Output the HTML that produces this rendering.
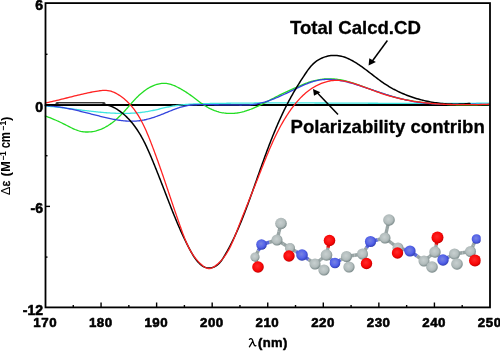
<!DOCTYPE html>
<html><head><meta charset="utf-8">
<style>
html,body{margin:0;padding:0;background:#fff;}
body{width:500px;height:351px;overflow:hidden;position:relative;}
svg{position:absolute;left:0;top:0;will-change:transform;}
text{font-family:"Liberation Sans",sans-serif;}
</style></head><body>
<svg width="500" height="351" viewBox="0 0 500 351">
<defs>
<radialGradient id="gC" cx="0.45" cy="0.42" r="0.58">
<stop offset="0" stop-color="#c8d0d0"/><stop offset="0.65" stop-color="#b2bcbc"/><stop offset="0.9" stop-color="#8a9898"/><stop offset="1" stop-color="#6c7c7c"/></radialGradient>
<radialGradient id="gN" cx="0.45" cy="0.42" r="0.58">
<stop offset="0" stop-color="#7884e0"/><stop offset="0.6" stop-color="#5564ea"/><stop offset="0.9" stop-color="#3a48c8"/><stop offset="1" stop-color="#2a36a0"/></radialGradient>
<radialGradient id="gO" cx="0.45" cy="0.42" r="0.58">
<stop offset="0" stop-color="#ff2a2a"/><stop offset="0.7" stop-color="#f80606"/><stop offset="1" stop-color="#c00000"/></radialGradient>
<clipPath id="mc"><rect x="0" y="0" width="480.7" height="351"/></clipPath>
</defs>
<g clip-path="url(#mc)"><line x1="281" y1="223.5" x2="279.00" y2="231.75" stroke="#98a4a4" stroke-width="3.4"/>
<line x1="279.00" y1="231.75" x2="277" y2="240" stroke="#98a4a4" stroke-width="3.4"/>
<line x1="277" y1="240" x2="269.25" y2="242.25" stroke="#98a4a4" stroke-width="3.4"/>
<line x1="269.25" y1="242.25" x2="261.5" y2="244.5" stroke="#5a68d8" stroke-width="3.4"/>
<line x1="261.5" y1="244.5" x2="258.25" y2="250.75" stroke="#5a68d8" stroke-width="3.4"/>
<line x1="258.25" y1="250.75" x2="255" y2="257" stroke="#98a4a4" stroke-width="3.4"/>
<line x1="255" y1="257" x2="256.50" y2="262.00" stroke="#98a4a4" stroke-width="3.4"/>
<line x1="256.50" y1="262.00" x2="258" y2="267" stroke="#e01010" stroke-width="3.4"/>
<line x1="277" y1="240" x2="283.50" y2="244.00" stroke="#98a4a4" stroke-width="3.4"/>
<line x1="283.50" y1="244.00" x2="290" y2="248" stroke="#98a4a4" stroke-width="3.4"/>
<line x1="290" y1="248" x2="289.50" y2="252.00" stroke="#98a4a4" stroke-width="3.4"/>
<line x1="289.50" y1="252.00" x2="289" y2="256" stroke="#e01010" stroke-width="3.4"/>
<line x1="290" y1="248" x2="296.00" y2="251.50" stroke="#98a4a4" stroke-width="3.4"/>
<line x1="296.00" y1="251.50" x2="302" y2="255" stroke="#5a68d8" stroke-width="3.4"/>
<line x1="302" y1="255" x2="308.50" y2="259.50" stroke="#5a68d8" stroke-width="3.4"/>
<line x1="308.50" y1="259.50" x2="315" y2="264" stroke="#98a4a4" stroke-width="3.4"/>
<line x1="315" y1="264" x2="319.50" y2="267.00" stroke="#98a4a4" stroke-width="3.4"/>
<line x1="319.50" y1="267.00" x2="324" y2="270" stroke="#98a4a4" stroke-width="3.4"/>
<line x1="315" y1="264" x2="320.75" y2="259.50" stroke="#98a4a4" stroke-width="3.4"/>
<line x1="320.75" y1="259.50" x2="326.5" y2="255" stroke="#98a4a4" stroke-width="3.4"/>
<line x1="326.5" y1="255" x2="328.00" y2="247.75" stroke="#98a4a4" stroke-width="3.4"/>
<line x1="328.00" y1="247.75" x2="329.5" y2="240.5" stroke="#e01010" stroke-width="3.4"/>
<line x1="326.5" y1="255" x2="330.75" y2="259.00" stroke="#98a4a4" stroke-width="3.4"/>
<line x1="330.75" y1="259.00" x2="335" y2="263" stroke="#5a68d8" stroke-width="3.4"/>
<line x1="335" y1="263" x2="340.75" y2="259.75" stroke="#5a68d8" stroke-width="3.4"/>
<line x1="340.75" y1="259.75" x2="346.5" y2="256.5" stroke="#98a4a4" stroke-width="3.4"/>
<line x1="346.5" y1="256.5" x2="347.75" y2="261.75" stroke="#98a4a4" stroke-width="3.4"/>
<line x1="347.75" y1="261.75" x2="349" y2="267" stroke="#98a4a4" stroke-width="3.4"/>
<line x1="346.5" y1="256.5" x2="354.50" y2="255.25" stroke="#98a4a4" stroke-width="3.4"/>
<line x1="354.50" y1="255.25" x2="362.5" y2="254" stroke="#98a4a4" stroke-width="3.4"/>
<line x1="362.5" y1="254" x2="364.50" y2="258.75" stroke="#98a4a4" stroke-width="3.4"/>
<line x1="364.50" y1="258.75" x2="366.5" y2="263.5" stroke="#e01010" stroke-width="3.4"/>
<line x1="362.5" y1="254" x2="366.50" y2="247.75" stroke="#98a4a4" stroke-width="3.4"/>
<line x1="366.50" y1="247.75" x2="370.5" y2="241.5" stroke="#5a68d8" stroke-width="3.4"/>
<line x1="370.5" y1="241.5" x2="377.75" y2="239.75" stroke="#5a68d8" stroke-width="3.4"/>
<line x1="377.75" y1="239.75" x2="385" y2="238" stroke="#98a4a4" stroke-width="3.4"/>
<line x1="385" y1="238" x2="387.00" y2="229.00" stroke="#98a4a4" stroke-width="3.4"/>
<line x1="387.00" y1="229.00" x2="389" y2="220" stroke="#98a4a4" stroke-width="3.4"/>
<line x1="385" y1="238" x2="391.50" y2="243.00" stroke="#98a4a4" stroke-width="3.4"/>
<line x1="391.50" y1="243.00" x2="398" y2="248" stroke="#98a4a4" stroke-width="3.4"/>
<line x1="398" y1="248" x2="397.75" y2="250.50" stroke="#98a4a4" stroke-width="3.4"/>
<line x1="397.75" y1="250.50" x2="397.5" y2="253" stroke="#e01010" stroke-width="3.4"/>
<line x1="398" y1="248" x2="404.00" y2="249.50" stroke="#98a4a4" stroke-width="3.4"/>
<line x1="404.00" y1="249.50" x2="410" y2="251" stroke="#5a68d8" stroke-width="3.4"/>
<line x1="410" y1="251" x2="417.00" y2="256.00" stroke="#5a68d8" stroke-width="3.4"/>
<line x1="417.00" y1="256.00" x2="424" y2="261" stroke="#98a4a4" stroke-width="3.4"/>
<line x1="424" y1="261" x2="428.00" y2="264.00" stroke="#98a4a4" stroke-width="3.4"/>
<line x1="428.00" y1="264.00" x2="432" y2="267" stroke="#98a4a4" stroke-width="3.4"/>
<line x1="424" y1="261" x2="429.50" y2="256.50" stroke="#98a4a4" stroke-width="3.4"/>
<line x1="429.50" y1="256.50" x2="435" y2="252" stroke="#98a4a4" stroke-width="3.4"/>
<line x1="435" y1="252" x2="436.25" y2="244.75" stroke="#98a4a4" stroke-width="3.4"/>
<line x1="436.25" y1="244.75" x2="437.5" y2="237.5" stroke="#e01010" stroke-width="3.4"/>
<line x1="435" y1="252" x2="439.00" y2="256.00" stroke="#98a4a4" stroke-width="3.4"/>
<line x1="439.00" y1="256.00" x2="443" y2="260" stroke="#5a68d8" stroke-width="3.4"/>
<line x1="443" y1="260" x2="448.75" y2="257.00" stroke="#5a68d8" stroke-width="3.4"/>
<line x1="448.75" y1="257.00" x2="454.5" y2="254" stroke="#98a4a4" stroke-width="3.4"/>
<line x1="454.5" y1="254" x2="455.75" y2="259.00" stroke="#98a4a4" stroke-width="3.4"/>
<line x1="455.75" y1="259.00" x2="457" y2="264" stroke="#98a4a4" stroke-width="3.4"/>
<line x1="454.5" y1="254" x2="462.50" y2="252.75" stroke="#98a4a4" stroke-width="3.4"/>
<line x1="462.50" y1="252.75" x2="470.5" y2="251.5" stroke="#98a4a4" stroke-width="3.4"/>
<line x1="470.5" y1="251.5" x2="472.75" y2="256.00" stroke="#98a4a4" stroke-width="3.4"/>
<line x1="472.75" y1="256.00" x2="475" y2="260.5" stroke="#e01010" stroke-width="3.4"/>
<line x1="470.5" y1="251.5" x2="473.25" y2="245.25" stroke="#98a4a4" stroke-width="3.4"/>
<line x1="473.25" y1="245.25" x2="476" y2="239" stroke="#98a4a4" stroke-width="3.4"/>
<circle cx="281" cy="223.5" r="5.8" fill="url(#gC)"/>
<circle cx="277" cy="240" r="5.5" fill="url(#gC)"/>
<circle cx="255" cy="257" r="4.6" fill="url(#gC)"/>
<circle cx="290" cy="248" r="5" fill="url(#gC)"/>
<circle cx="315" cy="264" r="5.5" fill="url(#gC)"/>
<circle cx="326.5" cy="255" r="5.8" fill="url(#gC)"/>
<circle cx="346.5" cy="256.5" r="5.5" fill="url(#gC)"/>
<circle cx="362.5" cy="254" r="5.5" fill="url(#gC)"/>
<circle cx="385" cy="238" r="5.5" fill="url(#gC)"/>
<circle cx="398" cy="248" r="5.5" fill="url(#gC)"/>
<circle cx="424" cy="261" r="5.5" fill="url(#gC)"/>
<circle cx="435" cy="252" r="5.7" fill="url(#gC)"/>
<circle cx="454.5" cy="254" r="5.5" fill="url(#gC)"/>
<circle cx="470.5" cy="251.5" r="5.5" fill="url(#gC)"/>
<circle cx="324" cy="270" r="5.6" fill="url(#gC)"/>
<circle cx="349" cy="267" r="5.6" fill="url(#gC)"/>
<circle cx="389" cy="220" r="5.8" fill="url(#gC)"/>
<circle cx="432" cy="267" r="5.8" fill="url(#gC)"/>
<circle cx="457" cy="264" r="5.8" fill="url(#gC)"/>
<circle cx="261.5" cy="244.5" r="5.3" fill="url(#gN)"/>
<circle cx="302" cy="255" r="5.8" fill="url(#gN)"/>
<circle cx="335" cy="263" r="5.3" fill="url(#gN)"/>
<circle cx="370.5" cy="241.5" r="5.6" fill="url(#gN)"/>
<circle cx="410" cy="251" r="5.6" fill="url(#gN)"/>
<circle cx="443" cy="260" r="5.7" fill="url(#gN)"/>
<circle cx="476.5" cy="239" r="4.8" fill="url(#gN)"/>
<circle cx="258" cy="267" r="5.8" fill="url(#gO)"/>
<circle cx="289" cy="256" r="5.7" fill="url(#gO)"/>
<circle cx="329.5" cy="240.5" r="5.8" fill="url(#gO)"/>
<circle cx="366.5" cy="263.5" r="5.7" fill="url(#gO)"/>
<circle cx="397.5" cy="253" r="5.7" fill="url(#gO)"/>
<circle cx="437.5" cy="237.5" r="6" fill="url(#gO)"/>
<circle cx="475" cy="260.5" r="6" fill="url(#gO)"/></g>
<g fill="none" stroke-linejoin="round" stroke-linecap="round">
<line x1="46" y1="105" x2="489" y2="105" stroke="#000" stroke-width="2"/>
<path d="M45.32,106.05 L46.42,106.13 L47.53,106.21 L48.63,106.30 L49.73,106.39 L50.84,106.49 L51.94,106.59 L53.05,106.70 L54.16,106.80 L55.26,106.91 L56.37,107.03 L57.47,107.15 L58.58,107.27 L59.69,107.39 L60.79,107.51 L61.90,107.64 L63.01,107.77 L64.12,107.90 L65.22,108.03 L66.33,108.17 L67.44,108.30 L68.55,108.44 L69.66,108.58 L70.76,108.72 L71.87,108.86 L72.98,109.00 L74.09,109.14 L75.20,109.28 L76.31,109.43 L77.42,109.57 L78.53,109.71 L79.64,109.85 L80.75,109.99 L81.86,110.13 L82.97,110.27 L84.08,110.41 L85.19,110.55 L86.30,110.68 L87.41,110.82 L88.52,110.95 L89.63,111.08 L90.74,111.21 L91.85,111.34 L92.97,111.47 L94.08,111.59 L95.19,111.71 L96.30,111.83 L97.41,111.94 L98.52,112.06 L99.63,112.17 L100.75,112.27 L101.86,112.37 L102.97,112.47 L104.08,112.56 L105.19,112.66 L106.31,112.74 L107.42,112.82 L108.53,112.90 L109.64,112.97 L110.75,113.04 L111.87,113.11 L112.98,113.16 L114.09,113.22 L115.20,113.26 L116.32,113.30 L117.43,113.34 L118.54,113.37 L119.65,113.39 L120.77,113.41 L121.88,113.42 L122.99,113.43 L124.10,113.43 L125.21,113.42 L126.33,113.40 L127.44,113.38 L128.55,113.35 L129.66,113.31 L130.77,113.26 L131.88,113.21 L132.99,113.15 L134.10,113.08 L135.21,113.00 L136.32,112.92 L137.42,112.82 L138.53,112.72 L139.64,112.60 L140.74,112.48 L141.85,112.35 L142.95,112.21 L144.05,112.06 L145.15,111.90 L146.25,111.73 L147.35,111.55 L148.45,111.36 L149.55,111.16 L150.64,110.95 L151.74,110.73 L152.83,110.50 L153.93,110.26 L155.02,110.02 L156.11,109.77 L157.20,109.52 L158.29,109.26 L159.38,109.00 L160.47,108.74 L161.56,108.49 L162.65,108.23 L163.74,107.97 L164.83,107.72 L165.93,107.48 L167.02,107.24 L168.11,107.01 L169.20,106.78 L170.30,106.57 L171.39,106.36 L172.49,106.17 L173.59,105.98 L174.69,105.81 L175.79,105.64 L176.89,105.49 L177.99,105.34 L179.09,105.20 L180.20,105.07 L181.30,104.94 L182.40,104.82 L183.51,104.71 L184.62,104.61 L185.72,104.51 L186.83,104.42 L187.94,104.34 L189.05,104.26 L190.16,104.19 L191.27,104.12 L192.38,104.06 L193.49,104.00 L194.60,103.95 L195.71,103.90 L196.82,103.86 L197.94,103.82 L199.05,103.78 L200.16,103.74 L201.28,103.71 L202.39,103.68 L203.50,103.65 L204.62,103.63 L205.73,103.60 L206.85,103.58 L207.96,103.56 L209.08,103.54 L210.19,103.52 L211.31,103.50 L212.42,103.48 L213.53,103.47 L214.65,103.45 L215.76,103.43 L216.88,103.41 L217.99,103.40 L219.11,103.38 L220.22,103.36 L221.34,103.35 L222.45,103.33 L223.57,103.32 L224.68,103.30 L225.80,103.29 L226.91,103.27 L228.03,103.26 L229.14,103.25 L230.26,103.23 L231.37,103.22 L232.49,103.21 L233.60,103.19 L234.72,103.18 L235.83,103.17 L236.95,103.16 L238.06,103.15 L239.18,103.14 L240.29,103.13 L241.41,103.12 L242.52,103.11 L243.64,103.10 L244.75,103.09 L245.87,103.08 L246.98,103.07 L248.10,103.06 L249.21,103.06 L250.33,103.05 L251.44,103.04 L252.56,103.03 L253.67,103.03 L254.79,103.02 L255.90,103.01 L257.02,103.01 L258.13,103.00 L259.25,102.99 L260.36,102.99 L261.48,102.98 L262.59,102.98 L263.71,102.97 L264.82,102.97 L265.94,102.97 L267.05,102.96 L268.17,102.96 L269.28,102.95 L270.40,102.95 L271.51,102.95 L272.63,102.95 L273.74,102.94 L274.86,102.94 L275.97,102.94 L277.09,102.94 L278.21,102.93 L279.32,102.93 L280.44,102.93 L281.55,102.93 L282.67,102.93 L283.78,102.93 L284.90,102.93 L286.01,102.93 L287.13,102.93 L288.24,102.93 L289.36,102.93 L290.47,102.93 L291.59,102.93 L292.71,102.93 L293.82,102.93 L294.94,102.93 L296.05,102.93 L297.17,102.93 L298.28,102.94 L299.40,102.94 L300.51,102.94 L301.63,102.94 L302.74,102.94 L303.86,102.95 L304.97,102.95 L306.09,102.95 L307.21,102.95 L308.32,102.96 L309.44,102.96 L310.55,102.96 L311.67,102.97 L312.78,102.97 L313.90,102.97 L315.01,102.98 L316.13,102.98 L317.25,102.98 L318.36,102.99 L319.48,102.99 L320.59,102.99 L321.71,103.00 L322.82,103.00 L323.94,103.01 L325.05,103.01 L326.17,103.02 L327.28,103.02 L328.40,103.03 L329.52,103.03 L330.63,103.04 L331.75,103.04 L332.86,103.05 L333.98,103.05 L335.09,103.06 L336.21,103.06 L337.32,103.07 L338.44,103.07 L339.56,103.08 L340.67,103.08 L341.79,103.09 L342.90,103.09 L344.02,103.10 L345.13,103.11 L346.25,103.11 L347.36,103.12 L348.48,103.12 L349.60,103.13 L350.71,103.13 L351.83,103.14 L352.94,103.15 L354.06,103.15 L355.17,103.16 L356.29,103.16 L357.40,103.17 L358.52,103.17 L359.64,103.18 L360.75,103.19 L361.87,103.19 L362.98,103.20 L364.10,103.20 L365.21,103.21 L366.33,103.22 L367.44,103.22 L368.56,103.23 L369.68,103.23 L370.79,103.24 L371.91,103.25 L373.02,103.25 L374.14,103.26 L375.25,103.26 L376.37,103.27 L377.48,103.27 L378.60,103.28 L379.72,103.28 L380.83,103.29 L381.95,103.30 L383.06,103.30 L384.18,103.31 L385.29,103.31 L386.41,103.32 L387.52,103.32 L388.64,103.33 L389.75,103.33 L390.87,103.34 L391.99,103.34 L393.10,103.35 L394.22,103.35 L395.33,103.36 L396.45,103.36 L397.56,103.36 L398.68,103.37 L399.79,103.37 L400.91,103.38 L402.02,103.38 L403.14,103.38 L404.26,103.39 L405.37,103.39 L406.49,103.40 L407.60,103.40 L408.72,103.40 L409.83,103.41 L410.95,103.41 L412.06,103.41 L413.18,103.41 L414.29,103.42 L415.41,103.42 L416.52,103.42 L417.64,103.42 L418.75,103.43 L419.87,103.43 L420.99,103.43 L422.10,103.43 L423.22,103.43 L424.33,103.44 L425.45,103.44 L426.56,103.44 L427.68,103.44 L428.79,103.44 L429.91,103.44 L431.02,103.44 L432.14,103.44 L433.25,103.44 L434.37,103.44 L435.48,103.44 L436.60,103.44 L437.71,103.44 L438.83,103.44 L439.94,103.44 L441.06,103.44 L442.17,103.43 L443.29,103.43 L444.40,103.43 L445.52,103.43 L446.63,103.43 L447.75,103.42 L448.86,103.42 L449.98,103.42 L451.09,103.42 L452.21,103.41 L453.32,103.41 L454.44,103.40 L455.55,103.40 L456.67,103.40 L457.78,103.39 L458.90,103.39 L460.01,103.38 L461.13,103.38 L462.24,103.37 L463.36,103.36 L464.47,103.36 L465.59,103.35 L466.70,103.35 L467.82,103.34 L468.93,103.33 L470.05,103.32 L471.16,103.32 L472.28,103.31 L473.39,103.30 L474.51,103.29 L475.62,103.28 L476.74,103.27 L477.85,103.26 L478.97,103.25 L480.08,103.24 L481.19,103.23 L482.31,103.22 L483.42,103.21 L484.54,103.20 L485.65,103.19 L486.77,103.18 L487.88,103.17 L489.00,103.15" stroke="#3ee6e0" stroke-width="1.3"/>
<path d="M45.30,116.05 L46.44,116.46 L47.58,116.87 L48.71,117.30 L49.84,117.73 L50.95,118.16 L52.07,118.61 L53.18,119.06 L54.28,119.53 L55.38,120.00 L56.48,120.48 L57.58,120.97 L58.67,121.46 L59.76,121.97 L60.85,122.49 L61.94,123.01 L63.03,123.55 L64.12,124.09 L65.22,124.65 L66.31,125.21 L67.41,125.78 L68.50,126.35 L69.60,126.92 L70.71,127.47 L71.82,128.02 L72.93,128.54 L74.05,129.04 L75.18,129.52 L76.31,129.97 L77.44,130.38 L78.59,130.75 L79.74,131.08 L80.90,131.35 L82.07,131.58 L83.24,131.76 L84.42,131.89 L85.61,131.98 L86.79,132.02 L87.98,132.01 L89.16,131.97 L90.35,131.87 L91.53,131.74 L92.71,131.57 L93.88,131.35 L95.05,131.10 L96.21,130.81 L97.36,130.49 L98.51,130.12 L99.64,129.73 L100.75,129.30 L101.86,128.84 L102.95,128.34 L104.03,127.82 L105.10,127.26 L106.15,126.68 L107.19,126.07 L108.22,125.44 L109.24,124.78 L110.25,124.10 L111.24,123.39 L112.22,122.67 L113.19,121.92 L114.14,121.16 L115.09,120.38 L116.02,119.58 L116.94,118.77 L117.85,117.94 L118.75,117.10 L119.64,116.24 L120.51,115.38 L121.38,114.51 L122.23,113.63 L123.07,112.74 L123.90,111.85 L124.72,110.95 L125.53,110.04 L126.34,109.14 L127.14,108.23 L127.93,107.32 L128.72,106.41 L129.51,105.50 L130.30,104.59 L131.09,103.69 L131.89,102.79 L132.68,101.89 L133.48,101.00 L134.29,100.12 L135.10,99.24 L135.93,98.38 L136.76,97.52 L137.61,96.68 L138.46,95.85 L139.34,95.03 L140.22,94.22 L141.13,93.43 L142.05,92.65 L142.99,91.89 L143.95,91.15 L144.94,90.43 L145.95,89.73 L146.97,89.05 L148.02,88.40 L149.09,87.77 L150.18,87.18 L151.28,86.62 L152.39,86.09 L153.52,85.60 L154.66,85.15 L155.81,84.74 L156.96,84.38 L158.13,84.07 L159.29,83.81 L160.47,83.60 L161.64,83.45 L162.82,83.35 L163.99,83.32 L165.16,83.35 L166.33,83.44 L167.49,83.60 L168.65,83.83 L169.80,84.11 L170.94,84.44 L172.08,84.82 L173.21,85.24 L174.34,85.70 L175.45,86.20 L176.56,86.72 L177.66,87.27 L178.75,87.84 L179.83,88.43 L180.91,89.03 L181.97,89.64 L183.02,90.25 L184.06,90.88 L185.10,91.52 L186.12,92.17 L187.14,92.84 L188.15,93.51 L189.15,94.19 L190.14,94.89 L191.13,95.60 L192.11,96.32 L193.09,97.05 L194.06,97.78 L195.03,98.52 L196.00,99.25 L196.97,99.99 L197.94,100.73 L198.91,101.46 L199.89,102.19 L200.87,102.91 L201.85,103.61 L202.85,104.31 L203.85,104.99 L204.86,105.65 L205.88,106.30 L206.91,106.92 L207.95,107.52 L209.01,108.10 L210.08,108.65 L211.17,109.17 L212.28,109.67 L213.39,110.13 L214.52,110.57 L215.66,110.97 L216.81,111.35 L217.98,111.69 L219.14,112.01 L220.32,112.30 L221.50,112.55 L222.69,112.77 L223.88,112.97 L225.07,113.13 L226.27,113.26 L227.46,113.35 L228.66,113.42 L229.85,113.45 L231.04,113.45 L232.23,113.42 L233.41,113.36 L234.59,113.27 L235.76,113.14 L236.93,112.99 L238.10,112.81 L239.26,112.60 L240.42,112.37 L241.58,112.11 L242.73,111.82 L243.88,111.52 L245.03,111.19 L246.17,110.84 L247.32,110.47 L248.45,110.08 L249.59,109.67 L250.72,109.25 L251.85,108.80 L252.97,108.35 L254.10,107.87 L255.22,107.39 L256.34,106.89 L257.45,106.38 L258.57,105.86 L259.68,105.33 L260.79,104.79 L261.89,104.24 L263.00,103.69 L264.10,103.12 L265.20,102.56 L266.30,101.99 L267.40,101.42 L268.49,100.84 L269.59,100.26 L270.68,99.69 L271.77,99.11 L272.86,98.54 L273.95,97.96 L275.03,97.40 L276.12,96.83 L277.20,96.27 L278.29,95.72 L279.37,95.18 L280.45,94.64 L281.53,94.11 L282.61,93.59 L283.69,93.08 L284.76,92.57 L285.84,92.07 L286.92,91.58 L288.00,91.09 L289.08,90.60 L290.16,90.12 L291.24,89.64 L292.33,89.16 L293.41,88.68 L294.50,88.20 L295.59,87.73 L296.68,87.25 L297.78,86.77 L298.87,86.29 L299.97,85.80 L301.08,85.31 L302.18,84.82 L303.30,84.34 L304.42,83.88 L305.54,83.43 L306.68,83.00 L307.83,82.58 L308.98,82.19 L310.14,81.82 L311.30,81.47 L312.48,81.14 L313.65,80.83 L314.84,80.54 L316.02,80.28 L317.21,80.03 L318.41,79.81 L319.61,79.61 L320.81,79.43 L322.01,79.27 L323.22,79.14 L324.42,79.02 L325.63,78.94 L326.84,78.87 L328.05,78.83 L329.25,78.81 L330.46,78.81 L331.66,78.84 L332.86,78.89 L334.06,78.97 L335.26,79.07 L336.45,79.20 L337.64,79.34 L338.82,79.52 L340.00,79.71 L341.18,79.92 L342.36,80.15 L343.53,80.41 L344.71,80.68 L345.87,80.96 L347.04,81.26 L348.20,81.58 L349.36,81.91 L350.52,82.25 L351.68,82.61 L352.84,82.97 L353.99,83.35 L355.14,83.73 L356.29,84.12 L357.44,84.52 L358.59,84.93 L359.74,85.34 L360.88,85.75 L362.03,86.17 L363.17,86.59 L364.32,87.01 L365.46,87.43 L366.60,87.85 L367.74,88.27 L368.89,88.68 L370.03,89.10 L371.17,89.51 L372.31,89.93 L373.45,90.34 L374.59,90.74 L375.74,91.15 L376.88,91.55 L378.02,91.95 L379.17,92.34 L380.31,92.73 L381.46,93.12 L382.60,93.50 L383.75,93.88 L384.90,94.25 L386.05,94.61 L387.20,94.97 L388.35,95.33 L389.51,95.67 L390.67,96.02 L391.82,96.35 L392.98,96.68 L394.14,97.00 L395.31,97.31 L396.47,97.61 L397.64,97.91 L398.81,98.20 L399.98,98.48 L401.15,98.75 L402.33,99.02 L403.51,99.28 L404.69,99.53 L405.87,99.77 L407.05,100.01 L408.23,100.24 L409.42,100.46 L410.61,100.68 L411.79,100.89 L412.98,101.09 L414.18,101.28 L415.37,101.47 L416.56,101.66 L417.76,101.83 L418.96,102.01 L420.15,102.17 L421.35,102.33 L422.55,102.48 L423.75,102.63 L424.96,102.77 L426.16,102.91 L427.37,103.04 L428.57,103.16 L429.78,103.28 L430.98,103.39 L432.19,103.50 L433.40,103.61 L434.61,103.70 L435.82,103.80 L437.03,103.89 L438.24,103.97 L439.45,104.05 L440.66,104.13 L441.87,104.20 L443.09,104.26 L444.30,104.33 L445.51,104.39 L446.73,104.44 L447.94,104.49 L449.15,104.54 L450.37,104.58 L451.58,104.62 L452.80,104.65 L454.01,104.68 L455.22,104.71 L456.44,104.74 L457.65,104.76 L458.86,104.78 L460.08,104.79 L461.29,104.80 L462.50,104.81 L463.71,104.82 L464.92,104.82 L466.14,104.83 L467.35,104.82 L468.56,104.82 L469.77,104.82 L470.97,104.81 L472.18,104.80 L473.39,104.79 L474.60,104.77 L475.80,104.76 L477.01,104.74 L478.21,104.72 L479.41,104.70 L480.61,104.68 L481.81,104.65 L483.01,104.63 L484.21,104.60 L485.41,104.57 L486.61,104.54 L487.80,104.52 L488.99,104.49" stroke="#22dd22" stroke-width="1.3"/>
<path d="M45.29,105.51 L46.45,105.58 L47.60,105.66 L48.75,105.75 L49.90,105.85 L51.04,105.96 L52.19,106.07 L53.33,106.20 L54.46,106.34 L55.60,106.48 L56.73,106.63 L57.87,106.79 L58.99,106.96 L60.12,107.13 L61.25,107.31 L62.37,107.50 L63.50,107.70 L64.62,107.90 L65.74,108.11 L66.85,108.32 L67.97,108.54 L69.09,108.76 L70.20,108.99 L71.31,109.23 L72.43,109.46 L73.54,109.71 L74.65,109.96 L75.76,110.21 L76.87,110.46 L77.98,110.72 L79.09,110.98 L80.19,111.25 L81.30,111.52 L82.41,111.79 L83.52,112.06 L84.62,112.33 L85.73,112.61 L86.84,112.89 L87.94,113.17 L89.05,113.45 L90.16,113.73 L91.27,114.01 L92.38,114.29 L93.49,114.58 L94.60,114.86 L95.71,115.14 L96.82,115.42 L97.93,115.70 L99.05,115.98 L100.16,116.26 L101.28,116.53 L102.40,116.81 L103.51,117.08 L104.63,117.35 L105.75,117.61 L106.87,117.87 L108.00,118.12 L109.12,118.37 L110.24,118.61 L111.37,118.85 L112.49,119.08 L113.62,119.30 L114.74,119.51 L115.87,119.71 L116.99,119.90 L118.12,120.08 L119.25,120.25 L120.38,120.41 L121.50,120.55 L122.63,120.68 L123.76,120.80 L124.89,120.91 L126.02,121.00 L127.14,121.08 L128.27,121.13 L129.40,121.18 L130.53,121.20 L131.65,121.21 L132.78,121.20 L133.91,121.17 L135.03,121.13 L136.16,121.06 L137.29,120.97 L138.41,120.86 L139.53,120.73 L140.66,120.58 L141.78,120.40 L142.90,120.20 L144.02,119.99 L145.14,119.75 L146.26,119.50 L147.37,119.22 L148.49,118.94 L149.60,118.63 L150.71,118.31 L151.82,117.98 L152.92,117.63 L154.02,117.27 L155.12,116.89 L156.22,116.51 L157.31,116.12 L158.40,115.71 L159.48,115.30 L160.57,114.89 L161.64,114.46 L162.72,114.03 L163.79,113.60 L164.86,113.16 L165.93,112.72 L166.99,112.28 L168.06,111.85 L169.12,111.41 L170.18,110.98 L171.25,110.56 L172.31,110.14 L173.37,109.72 L174.44,109.32 L175.50,108.93 L176.57,108.54 L177.64,108.17 L178.71,107.81 L179.78,107.47 L180.86,107.15 L181.94,106.84 L183.03,106.55 L184.12,106.28 L185.22,106.03 L186.32,105.81 L187.42,105.60 L188.53,105.43 L189.65,105.27 L190.77,105.14 L191.90,105.02 L193.03,104.92 L194.16,104.84 L195.30,104.78 L196.44,104.73 L197.59,104.69 L198.73,104.66 L199.88,104.64 L201.02,104.63 L202.17,104.63 L203.32,104.63 L204.47,104.63 L205.62,104.64 L206.77,104.65 L207.92,104.66 L209.06,104.67 L210.21,104.68 L211.36,104.69 L212.50,104.70 L213.65,104.71 L214.79,104.73 L215.94,104.74 L217.08,104.76 L218.23,104.77 L219.37,104.79 L220.51,104.80 L221.66,104.82 L222.80,104.83 L223.94,104.84 L225.09,104.86 L226.23,104.87 L227.37,104.89 L228.51,104.90 L229.66,104.91 L230.80,104.92 L231.94,104.93 L233.09,104.94 L234.23,104.95 L235.37,104.96 L236.52,104.97 L237.66,104.97 L238.80,104.97 L239.95,104.98 L241.09,104.98 L242.23,104.97 L243.38,104.97 L244.52,104.95 L245.66,104.93 L246.81,104.90 L247.95,104.85 L249.09,104.80 L250.22,104.73 L251.36,104.64 L252.49,104.54 L253.62,104.41 L254.75,104.27 L255.87,104.10 L256.99,103.92 L258.11,103.71 L259.22,103.48 L260.33,103.23 L261.44,102.96 L262.54,102.67 L263.64,102.37 L264.74,102.05 L265.83,101.72 L266.91,101.37 L268.00,101.01 L269.08,100.64 L270.15,100.25 L271.22,99.85 L272.29,99.45 L273.35,99.03 L274.41,98.60 L275.47,98.17 L276.52,97.73 L277.57,97.28 L278.62,96.82 L279.66,96.37 L280.70,95.90 L281.73,95.44 L282.77,94.97 L283.80,94.49 L284.82,94.02 L285.84,93.55 L286.86,93.08 L287.88,92.60 L288.90,92.12 L289.92,91.65 L290.94,91.16 L291.96,90.68 L292.99,90.19 L294.02,89.70 L295.06,89.20 L296.10,88.70 L297.15,88.19 L298.20,87.68 L299.26,87.18 L300.32,86.67 L301.39,86.17 L302.46,85.68 L303.54,85.19 L304.62,84.72 L305.70,84.25 L306.79,83.80 L307.88,83.36 L308.97,82.94 L310.07,82.53 L311.17,82.15 L312.27,81.79 L313.37,81.45 L314.47,81.14 L315.58,80.85 L316.68,80.59 L317.79,80.36 L318.90,80.15 L320.01,79.98 L321.12,79.82 L322.23,79.69 L323.34,79.59 L324.45,79.51 L325.56,79.45 L326.68,79.42 L327.79,79.41 L328.91,79.41 L330.02,79.44 L331.13,79.49 L332.25,79.56 L333.37,79.65 L334.48,79.76 L335.60,79.88 L336.71,80.02 L337.83,80.18 L338.94,80.35 L340.06,80.54 L341.17,80.74 L342.29,80.96 L343.40,81.18 L344.52,81.43 L345.63,81.68 L346.75,81.95 L347.86,82.22 L348.97,82.51 L350.08,82.81 L351.19,83.12 L352.30,83.43 L353.41,83.75 L354.52,84.08 L355.63,84.42 L356.74,84.76 L357.84,85.11 L358.95,85.46 L360.05,85.82 L361.15,86.18 L362.25,86.54 L363.35,86.91 L364.45,87.27 L365.55,87.64 L366.64,88.01 L367.74,88.38 L368.83,88.75 L369.92,89.12 L371.01,89.49 L372.10,89.86 L373.19,90.23 L374.27,90.60 L375.36,90.97 L376.45,91.33 L377.53,91.70 L378.62,92.06 L379.70,92.42 L380.79,92.78 L381.87,93.14 L382.96,93.49 L384.04,93.84 L385.12,94.19 L386.21,94.54 L387.29,94.88 L388.38,95.22 L389.46,95.56 L390.55,95.89 L391.64,96.22 L392.72,96.54 L393.81,96.86 L394.90,97.17 L395.99,97.48 L397.08,97.78 L398.17,98.08 L399.27,98.37 L400.36,98.66 L401.46,98.94 L402.56,99.21 L403.66,99.48 L404.76,99.74 L405.86,100.00 L406.97,100.24 L408.07,100.48 L409.18,100.72 L410.29,100.94 L411.41,101.16 L412.52,101.37 L413.64,101.57 L414.76,101.76 L415.89,101.94 L417.01,102.11 L418.14,102.28 L419.27,102.44 L420.41,102.59 L421.54,102.73 L422.68,102.86 L423.82,102.99 L424.96,103.11 L426.10,103.22 L427.25,103.32 L428.39,103.42 L429.54,103.52 L430.69,103.60 L431.84,103.68 L432.99,103.76 L434.15,103.83 L435.30,103.89 L436.45,103.95 L437.61,104.00 L438.77,104.05 L439.92,104.09 L441.08,104.13 L442.24,104.17 L443.40,104.20 L444.56,104.22 L445.72,104.25 L446.88,104.27 L448.04,104.29 L449.20,104.30 L450.35,104.31 L451.51,104.32 L452.67,104.33 L453.83,104.33 L454.99,104.33 L456.14,104.34 L457.30,104.33 L458.46,104.33 L459.61,104.33 L460.76,104.32 L461.92,104.32 L463.07,104.31 L464.22,104.31 L465.36,104.30 L466.51,104.30 L467.66,104.29 L468.80,104.29 L469.94,104.28 L471.08,104.28 L472.22,104.27 L473.36,104.27 L474.49,104.27 L475.62,104.27 L476.75,104.28 L477.88,104.28 L479.00,104.29 L480.12,104.30 L481.24,104.32 L482.36,104.33 L483.47,104.35 L484.58,104.37 L485.69,104.40 L486.79,104.43 L487.89,104.46 L488.99,104.50" stroke="#3344dd" stroke-width="1.3"/>
<path d="M57,103.6 L104,103.6" stroke="#3a3a3a" stroke-width="3"/><path d="M59,103.5 L102,103.5" stroke="#a8a8a8" stroke-width="1.2"/>
<path d="M45.3,105 L100,105 L99.94,105.10 L101.58,104.83 L103.17,104.71 L104.72,104.74 L106.24,104.90 L107.71,105.18 L109.16,105.56 L110.57,106.04 L111.96,106.61 L113.32,107.24 L114.65,107.93 L115.97,108.68 L117.26,109.46 L118.53,110.29 L119.78,111.16 L121.00,112.07 L122.21,113.01 L123.39,113.99 L124.55,115.00 L125.69,116.04 L126.80,117.11 L127.89,118.20 L128.96,119.33 L130.00,120.47 L131.02,121.64 L132.02,122.83 L133.00,124.03 L133.95,125.25 L134.87,126.49 L135.77,127.73 L136.65,128.99 L137.51,130.26 L138.34,131.54 L139.15,132.83 L139.94,134.13 L140.71,135.44 L141.47,136.75 L142.20,138.08 L142.92,139.41 L143.63,140.75 L144.32,142.10 L145.00,143.46 L145.66,144.82 L146.31,146.19 L146.95,147.56 L147.58,148.94 L148.21,150.33 L148.82,151.72 L149.43,153.11 L150.03,154.51 L150.62,155.91 L151.22,157.32 L151.81,158.72 L152.39,160.13 L152.98,161.55 L153.56,162.96 L154.14,164.38 L154.71,165.80 L155.29,167.22 L155.86,168.64 L156.43,170.07 L157.00,171.49 L157.57,172.92 L158.13,174.35 L158.70,175.78 L159.26,177.21 L159.82,178.64 L160.38,180.07 L160.94,181.50 L161.50,182.93 L162.05,184.36 L162.61,185.80 L163.16,187.23 L163.72,188.66 L164.27,190.09 L164.82,191.52 L165.37,192.95 L165.92,194.38 L166.47,195.81 L167.02,197.23 L167.57,198.66 L168.12,200.08 L168.68,201.51 L169.23,202.93 L169.78,204.35 L170.34,205.77 L170.89,207.19 L171.45,208.60 L172.01,210.02 L172.57,211.43 L173.14,212.85 L173.71,214.26 L174.28,215.67 L174.85,217.08 L175.43,218.49 L176.01,219.89 L176.60,221.30 L177.19,222.70 L177.78,224.10 L178.38,225.50 L178.99,226.90 L179.60,228.30 L180.21,229.69 L180.84,231.09 L181.46,232.48 L182.10,233.87 L182.74,235.26 L183.39,236.65 L184.04,238.03 L184.70,239.41 L185.37,240.79 L186.05,242.17 L186.73,243.55 L187.43,244.93 L188.13,246.30 L188.84,247.67 L189.56,249.04 L190.29,250.41 L191.03,251.77 L191.79,253.13 L192.56,254.47 L193.37,255.80 L194.20,257.10 L195.07,258.37 L195.98,259.61 L196.94,260.81 L197.95,261.97 L199.01,263.08 L200.13,264.14 L201.32,265.14 L202.57,266.03 L203.88,266.80 L205.26,267.39 L206.68,267.78 L208.15,267.97 L209.63,267.98 L211.10,267.82 L212.54,267.48 L213.94,266.99 L215.27,266.36 L216.51,265.59 L217.67,264.70 L218.77,263.70 L219.80,262.61 L220.78,261.44 L221.70,260.20 L222.59,258.91 L223.44,257.58 L224.27,256.22 L225.07,254.85 L225.87,253.48 L226.65,252.11 L227.41,250.74 L228.16,249.36 L228.91,247.99 L229.64,246.61 L230.35,245.24 L231.06,243.86 L231.76,242.48 L232.44,241.10 L233.12,239.72 L233.78,238.33 L234.44,236.95 L235.09,235.56 L235.72,234.17 L236.35,232.78 L236.98,231.39 L237.59,230.00 L238.20,228.61 L238.80,227.21 L239.39,225.81 L239.98,224.42 L240.56,223.01 L241.13,221.61 L241.70,220.21 L242.26,218.80 L242.82,217.39 L243.38,215.98 L243.93,214.57 L244.48,213.16 L245.02,211.74 L245.56,210.32 L246.10,208.90 L246.63,207.48 L247.17,206.06 L247.70,204.63 L248.23,203.20 L248.75,201.77 L249.28,200.34 L249.80,198.91 L250.32,197.48 L250.84,196.04 L251.36,194.60 L251.87,193.17 L252.39,191.73 L252.90,190.29 L253.41,188.85 L253.93,187.40 L254.44,185.96 L254.95,184.52 L255.46,183.08 L255.97,181.63 L256.48,180.19 L256.99,178.74 L257.50,177.30 L258.01,175.85 L258.52,174.40 L259.03,172.96 L259.55,171.51 L260.06,170.06 L260.57,168.62 L261.09,167.17 L261.60,165.73 L262.12,164.28 L262.64,162.84 L263.16,161.39 L263.68,159.95 L264.20,158.51 L264.73,157.07 L265.26,155.63 L265.79,154.19 L266.32,152.75 L266.86,151.31 L267.39,149.87 L267.93,148.44 L268.48,147.00 L269.02,145.57 L269.57,144.14 L270.12,142.71 L270.68,141.28 L271.24,139.85 L271.80,138.43 L272.37,137.01 L272.94,135.59 L273.52,134.17 L274.10,132.75 L274.68,131.34 L275.27,129.93 L275.86,128.52 L276.46,127.11 L277.06,125.71 L277.67,124.30 L278.28,122.90 L278.90,121.51 L279.52,120.11 L280.15,118.72 L280.78,117.34 L281.42,115.95 L282.07,114.57 L282.72,113.19 L283.38,111.82 L284.04,110.44 L284.71,109.08 L285.39,107.71 L286.08,106.35 L286.77,104.99 L287.47,103.64 L288.17,102.29 L288.88,100.95 L289.60,99.60 L290.33,98.27 L291.06,96.93 L291.81,95.60 L292.56,94.28 L293.32,92.96 L294.08,91.64 L294.86,90.33 L295.64,89.02 L296.43,87.71 L297.22,86.41 L298.02,85.11 L298.83,83.81 L299.65,82.52 L300.47,81.22 L301.30,79.93 L302.14,78.64 L302.98,77.35 L303.83,76.06 L304.68,74.78 L305.54,73.49 L306.41,72.21 L307.29,70.94 L308.20,69.68 L309.13,68.45 L310.08,67.25 L311.08,66.08 L312.11,64.96 L313.18,63.88 L314.31,62.85 L315.49,61.88 L316.73,60.97 L318.02,60.12 L319.35,59.34 L320.72,58.63 L322.12,57.98 L323.56,57.40 L325.02,56.90 L326.50,56.46 L327.99,56.10 L329.49,55.81 L331.00,55.60 L332.51,55.46 L334.01,55.41 L335.50,55.43 L336.98,55.53 L338.45,55.71 L339.91,55.95 L341.36,56.27 L342.79,56.64 L344.22,57.08 L345.63,57.57 L347.03,58.12 L348.43,58.72 L349.81,59.36 L351.18,60.05 L352.54,60.77 L353.88,61.53 L355.22,62.33 L356.55,63.16 L357.87,64.01 L359.17,64.88 L360.47,65.78 L361.75,66.69 L363.02,67.61 L364.29,68.55 L365.54,69.49 L366.78,70.43 L368.02,71.38 L369.24,72.32 L370.46,73.27 L371.68,74.21 L372.89,75.15 L374.11,76.09 L375.32,77.02 L376.53,77.95 L377.74,78.86 L378.96,79.77 L380.19,80.66 L381.42,81.55 L382.66,82.42 L383.91,83.27 L385.17,84.11 L386.44,84.93 L387.72,85.74 L389.01,86.53 L390.32,87.30 L391.64,88.05 L392.96,88.79 L394.30,89.50 L395.65,90.21 L397.01,90.89 L398.37,91.56 L399.75,92.21 L401.14,92.84 L402.53,93.45 L403.93,94.05 L405.34,94.63 L406.76,95.20 L408.19,95.74 L409.62,96.27 L411.07,96.78 L412.52,97.28 L413.97,97.75 L415.43,98.21 L416.90,98.66 L418.37,99.08 L419.85,99.49 L421.34,99.88 L422.82,100.26 L424.32,100.62 L425.82,100.96 L427.32,101.28 L428.83,101.58 L430.34,101.87 L431.85,102.15 L433.37,102.40 L434.88,102.64 L436.41,102.86 L437.93,103.06 L439.46,103.25 L440.98,103.42 L442.51,103.57 L444.04,103.70 L445.57,103.82 L447.11,103.92 L448.64,104.01 L450.17,104.07 L451.70,104.12 L453.24,104.16 L454.77,104.17 L456.30,104.17 L457.83,104.15 L459.35,104.12 L460.88,104.07 L462.40,104.00 L463.92,103.91 L465.44,103.81 L466.96,103.69 L468.47,103.55 L469.98,103.40" stroke="#000" stroke-width="1.5"/>
<path d="M45.30,103.06 L46.95,102.70 L48.61,102.34 L50.25,101.97 L51.90,101.60 L53.53,101.21 L55.17,100.82 L56.80,100.43 L58.43,100.03 L60.05,99.63 L61.68,99.22 L63.30,98.82 L64.92,98.41 L66.54,98.00 L68.16,97.59 L69.78,97.18 L71.40,96.77 L73.02,96.36 L74.64,95.96 L76.26,95.56 L77.89,95.16 L79.52,94.77 L81.15,94.39 L82.78,94.01 L84.42,93.64 L86.06,93.27 L87.71,92.92 L89.36,92.57 L91.02,92.24 L92.68,91.91 L94.35,91.60 L96.02,91.30 L97.71,91.02 L99.39,90.77 L101.07,90.58 L102.75,90.45 L104.42,90.39 L106.09,90.43 L107.74,90.58 L109.37,90.84 L110.99,91.24 L112.58,91.77 L114.15,92.41 L115.69,93.16 L117.20,93.98 L118.67,94.87 L120.10,95.82 L121.49,96.80 L122.84,97.81 L124.15,98.86 L125.43,99.95 L126.66,101.07 L127.86,102.21 L129.02,103.39 L130.15,104.60 L131.25,105.83 L132.31,107.09 L133.34,108.38 L134.34,109.69 L135.31,111.03 L136.26,112.39 L137.18,113.77 L138.07,115.17 L138.94,116.59 L139.78,118.03 L140.60,119.48 L141.40,120.95 L142.18,122.44 L142.94,123.94 L143.68,125.45 L144.41,126.97 L145.12,128.51 L145.81,130.05 L146.50,131.61 L147.16,133.17 L147.82,134.73 L148.47,136.31 L149.10,137.88 L149.73,139.46 L150.35,141.04 L150.97,142.63 L151.58,144.21 L152.18,145.79 L152.78,147.37 L153.38,148.95 L153.97,150.53 L154.56,152.11 L155.14,153.69 L155.72,155.27 L156.30,156.85 L156.87,158.43 L157.44,160.01 L158.01,161.59 L158.57,163.17 L159.13,164.75 L159.69,166.33 L160.25,167.91 L160.80,169.49 L161.35,171.07 L161.90,172.65 L162.44,174.23 L162.99,175.81 L163.53,177.39 L164.07,178.96 L164.61,180.54 L165.15,182.12 L165.68,183.70 L166.22,185.28 L166.75,186.86 L167.29,188.44 L167.82,190.02 L168.36,191.61 L168.89,193.19 L169.42,194.77 L169.96,196.35 L170.49,197.93 L171.02,199.51 L171.56,201.10 L172.09,202.68 L172.63,204.26 L173.17,205.85 L173.70,207.43 L174.24,209.02 L174.78,210.60 L175.33,212.19 L175.87,213.78 L176.42,215.36 L176.97,216.95 L177.52,218.54 L178.07,220.13 L178.62,221.72 L179.18,223.31 L179.74,224.90 L180.30,226.50 L180.87,228.09 L181.44,229.68 L182.01,231.28 L182.59,232.87 L183.18,234.46 L183.78,236.05 L184.39,237.63 L185.02,239.20 L185.66,240.77 L186.32,242.32 L187.01,243.86 L187.72,245.39 L188.45,246.91 L189.21,248.41 L190.01,249.89 L190.83,251.35 L191.70,252.79 L192.59,254.21 L193.53,255.61 L194.51,256.98 L195.54,258.32 L196.61,259.64 L197.73,260.92 L198.90,262.18 L200.12,263.40 L201.39,264.58 L202.72,265.70 L204.10,266.71 L205.51,267.55 L206.95,268.17 L208.41,268.52 L209.88,268.53 L211.36,268.18 L212.83,267.50 L214.27,266.60 L215.66,265.60 L216.99,264.54 L218.27,263.44 L219.49,262.30 L220.65,261.11 L221.77,259.88 L222.84,258.61 L223.87,257.31 L224.85,255.98 L225.79,254.61 L226.70,253.21 L227.57,251.78 L228.40,250.33 L229.21,248.86 L229.98,247.36 L230.73,245.84 L231.46,244.31 L232.16,242.76 L232.84,241.20 L233.51,239.62 L234.16,238.04 L234.80,236.45 L235.43,234.86 L236.05,233.26 L236.66,231.66 L237.28,230.06 L237.89,228.47 L238.50,226.87 L239.11,225.29 L239.73,223.71 L240.34,222.13 L240.96,220.56 L241.57,218.99 L242.19,217.42 L242.81,215.86 L243.43,214.30 L244.04,212.74 L244.66,211.18 L245.28,209.63 L245.90,208.08 L246.52,206.53 L247.14,204.98 L247.76,203.44 L248.38,201.89 L249.00,200.35 L249.62,198.81 L250.24,197.27 L250.86,195.72 L251.48,194.18 L252.10,192.64 L252.72,191.10 L253.34,189.56 L253.96,188.01 L254.58,186.47 L255.20,184.92 L255.82,183.38 L256.43,181.83 L257.05,180.28 L257.66,178.72 L258.28,177.17 L258.89,175.61 L259.51,174.05 L260.12,172.49 L260.74,170.93 L261.35,169.37 L261.97,167.80 L262.59,166.24 L263.21,164.67 L263.83,163.10 L264.45,161.54 L265.08,159.97 L265.71,158.41 L266.35,156.84 L266.99,155.28 L267.63,153.72 L268.28,152.16 L268.94,150.61 L269.60,149.05 L270.27,147.50 L270.94,145.95 L271.62,144.41 L272.31,142.87 L273.01,141.34 L273.71,139.80 L274.43,138.28 L275.15,136.76 L275.88,135.24 L276.62,133.73 L277.37,132.23 L278.14,130.73 L278.91,129.24 L279.70,127.75 L280.49,126.27 L281.30,124.80 L282.13,123.34 L282.96,121.89 L283.81,120.44 L284.67,119.00 L285.55,117.58 L286.44,116.16 L287.34,114.75 L288.27,113.35 L289.20,111.96 L290.16,110.58 L291.13,109.21 L292.11,107.86 L293.12,106.52 L294.14,105.19 L295.19,103.88 L296.25,102.59 L297.34,101.31 L298.44,100.06 L299.57,98.83 L300.73,97.62 L301.91,96.44 L303.11,95.29 L304.34,94.16 L305.60,93.07 L306.88,92.00 L308.19,90.97 L309.54,89.97 L310.91,89.01 L312.31,88.08 L313.74,87.20 L315.21,86.35 L316.71,85.55 L318.24,84.79 L319.79,84.07 L321.37,83.42 L322.97,82.81 L324.59,82.26 L326.22,81.78 L327.87,81.35 L329.52,81.00 L331.18,80.71 L332.84,80.50 L334.50,80.37 L336.16,80.31 L337.82,80.33 L339.47,80.43 L341.12,80.59 L342.76,80.81 L344.40,81.09 L346.04,81.41 L347.67,81.79 L349.30,82.20 L350.92,82.65 L352.53,83.12 L354.15,83.62 L355.75,84.14 L357.35,84.67 L358.95,85.22 L360.54,85.77 L362.13,86.34 L363.72,86.91 L365.30,87.49 L366.89,88.08 L368.47,88.67 L370.05,89.26 L371.62,89.84 L373.20,90.43 L374.78,91.01 L376.36,91.59 L377.95,92.16 L379.53,92.72 L381.12,93.27 L382.71,93.81 L384.30,94.34 L385.90,94.85 L387.50,95.34 L389.10,95.82 L390.71,96.29 L392.33,96.73 L393.94,97.17 L395.56,97.59 L397.19,97.99 L398.82,98.38 L400.45,98.75 L402.08,99.11 L403.72,99.46 L405.36,99.79 L407.00,100.11 L408.65,100.42 L410.30,100.72 L411.95,101.00 L413.60,101.27 L415.26,101.52 L416.92,101.77 L418.58,102.00 L420.24,102.22 L421.91,102.44 L423.58,102.64 L425.25,102.82 L426.92,103.00 L428.59,103.17 L430.26,103.33 L431.94,103.48 L433.61,103.62 L435.29,103.75 L436.97,103.87 L438.65,103.98 L440.33,104.08 L442.01,104.17 L443.70,104.26 L445.38,104.34 L447.06,104.41 L448.75,104.47 L450.43,104.52 L452.11,104.57 L453.80,104.61 L455.48,104.64 L457.17,104.67 L458.85,104.69 L460.53,104.71 L462.22,104.72 L463.90,104.72 L465.58,104.72 L467.26,104.71 L468.94,104.70 L470.62,104.69 L472.30,104.67 L473.97,104.64 L475.65,104.61 L477.32,104.58 L479.00,104.54 L480.67,104.50 L482.34,104.46 L484.00,104.42 L485.67,104.37 L487.33,104.32 L489.00,104.27" stroke="#ff2222" stroke-width="1.3"/>
</g>
<rect x="45.5" y="3.1" width="444.5" height="304.3" fill="none" stroke="#000" stroke-width="1.8"/>
<line x1="73.28" y1="307" x2="73.28" y2="305" stroke="#000" stroke-width="1.4"/>
<line x1="101.06" y1="307" x2="101.06" y2="302.5" stroke="#000" stroke-width="1.4"/>
<line x1="128.84" y1="307" x2="128.84" y2="305" stroke="#000" stroke-width="1.4"/>
<line x1="156.62" y1="307" x2="156.62" y2="302.5" stroke="#000" stroke-width="1.4"/>
<line x1="184.40" y1="307" x2="184.40" y2="305" stroke="#000" stroke-width="1.4"/>
<line x1="212.18" y1="307" x2="212.18" y2="302.5" stroke="#000" stroke-width="1.4"/>
<line x1="239.96" y1="307" x2="239.96" y2="305" stroke="#000" stroke-width="1.4"/>
<line x1="267.74" y1="307" x2="267.74" y2="302.5" stroke="#000" stroke-width="1.4"/>
<line x1="295.52" y1="307" x2="295.52" y2="305" stroke="#000" stroke-width="1.4"/>
<line x1="323.30" y1="307" x2="323.30" y2="302.5" stroke="#000" stroke-width="1.4"/>
<line x1="351.08" y1="307" x2="351.08" y2="305" stroke="#000" stroke-width="1.4"/>
<line x1="378.86" y1="307" x2="378.86" y2="302.5" stroke="#000" stroke-width="1.4"/>
<line x1="406.64" y1="307" x2="406.64" y2="305" stroke="#000" stroke-width="1.4"/>
<line x1="434.42" y1="307" x2="434.42" y2="302.5" stroke="#000" stroke-width="1.4"/>
<line x1="462.20" y1="307" x2="462.20" y2="305" stroke="#000" stroke-width="1.4"/>
<line x1="45.5" y1="257.10" x2="47.5" y2="257.10" stroke="#000" stroke-width="1.4"/>
<line x1="45.5" y1="206.40" x2="50.0" y2="206.40" stroke="#000" stroke-width="1.4"/>
<line x1="45.5" y1="155.70" x2="47.5" y2="155.70" stroke="#000" stroke-width="1.4"/>
<line x1="45.5" y1="105.00" x2="50.0" y2="105.00" stroke="#000" stroke-width="1.4"/>
<line x1="45.5" y1="54.30" x2="47.5" y2="54.30" stroke="#000" stroke-width="1.4"/>
<g stroke="#000" stroke-width="1.5" fill="#000">
<line x1="387.4" y1="40.5" x2="372" y2="61.5"/>
<path d="M368.6,65.6 L369.3,58.3 L375.9,62 Z" stroke="none"/>
<line x1="338" y1="114.5" x2="317" y2="92.5"/>
<path d="M313,89 L314,95.8 L320.4,92.2 Z" stroke="none"/>
</g>
<g font-weight="bold" font-size="14" text-anchor="end" stroke="#000" stroke-width="0.6" stroke-linejoin="round">
<text x="43" y="10.3">6</text>
<text x="43" y="111.8">0</text>
<text x="43" y="213.3">-6</text>
<text x="43" y="314.8">-12</text>
</g>
<g font-weight="bold" font-size="13.3" letter-spacing="0.5" text-anchor="middle" stroke="#000" stroke-width="0.6" stroke-linejoin="round">
<text x="45.2" y="327">170</text>
<text x="100.8" y="327">180</text>
<text x="156.3" y="327">190</text>
<text x="211.9" y="327">200</text>
<text x="267.4" y="327">210</text>
<text x="323.0" y="327">220</text>
<text x="378.6" y="327">230</text>
<text x="434.1" y="327">240</text>
<text x="489.7" y="327">250</text>
</g>
<path d="M249.4,339.4 Q251.2,337.6 252.4,339.8 L254,344.6 Q254.7,346.4 255.9,345.6 M252.6,341.5 L249.4,346.8" fill="none" stroke="#000" stroke-width="1.3" stroke-linecap="round"/>
<text x="258" y="347" letter-spacing="0.4" font-size="13" font-weight="bold" stroke="#000" stroke-width="0.5" stroke-linejoin="round">(nm)</text>
<text x="290" y="34" font-size="18.6" font-weight="bold" stroke="#000" stroke-width="0.3" stroke-linejoin="round">Total Calcd.CD</text>
<text x="290.6" y="133.3" font-size="18.6" font-weight="bold" stroke="#000" stroke-width="0.3" stroke-linejoin="round">Polarizability contribn</text>
<g transform="translate(10.4,195) rotate(-90)">
<text font-family="Liberation Serif" font-size="13" y="0"><tspan x="-0.2">Δ</tspan><tspan x="8.6" stroke="#000" stroke-width="0.45">ε</tspan></text>
<text font-weight="bold" font-size="13.5" y="0"><tspan x="18.5">(</tspan><tspan x="73.9">)</tspan></text>
<text font-weight="bold" font-size="12.6" y="0" x="23.3">M</text>
<text font-weight="bold" font-size="15" transform="translate(46.8,0) scale(0.76,1)">c</text>
<text font-weight="bold" font-size="15" transform="translate(52.8,0) scale(0.76,1)">m</text>
<text font-weight="bold" font-size="8.5" y="-4.6"><tspan x="34.8">−</tspan><tspan x="39">1</tspan><tspan x="64.6">−</tspan><tspan x="69.6">1</tspan></text>
</g>
</svg>
</body></html>
